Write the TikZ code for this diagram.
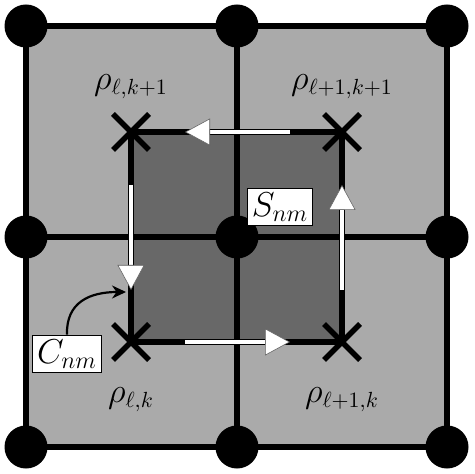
\documentclass[tikz,border=0pt]{standalone}
\usetikzlibrary{arrows.meta,calc}
\definecolor{lightg}{RGB}{170,170,170}
\definecolor{darkg}{RGB}{104,104,104}
\begin{document}
\begin{tikzpicture}[x=0.5pt,y=-0.5pt,
  gridline/.style={line width=2.6pt,black},
  crossline/.style={line width=2.8pt,black},
  dot/.style={circle,fill=black,minimum size=21.5pt,inner sep=0pt},
  flowarrow/.style={line width=2.2pt,white,-{Triangle[length=12.5pt,width=13.5pt,color=black!60,fill=white,line width=0.3pt]}},
  rholabel/.style={font=\fontsize{16}{18}\selectfont},
  labbox/.style={draw=black,line width=0.5pt,fill=white,inner sep=2.2pt,font=\fontsize{18}{20}\selectfont}]
\useasboundingbox (0,0) rectangle (474,474);
% fills
\fill[lightg] (26,26) rectangle (447,447);
\fill[darkg] (131,132) rectangle (342,342);
% grid
\draw[gridline,line width=3pt] (26,26) rectangle (447,447);
\draw[gridline] (237,26) -- (237,447);
\draw[gridline] (26,237) -- (447,237);
% dark square border
\coordinate (c1) at (131,132);
\coordinate (c2) at (342,132);
\coordinate (c3) at (342,342);
\coordinate (c4) at (131,342);
\draw[gridline] (c1) -- (c2) -- (c3) -- (c4) -- cycle;
% crosses
\foreach \c in {c1,c2,c3,c4}{
  \draw[crossline] ($(\c)+(-18,-18)$) -- ($(\c)+(18,18)$);
  \draw[crossline] ($(\c)+(-18,18)$) -- ($(\c)+(18,-18)$);
}
% dots
\foreach \x/\y [count=\i] in {26/26,237/26,447/26,26/237,237/237,447/237,26/447,237/447,447/447}
  \node[dot] (d\i) at (\x,\y) {};
% arrows
\coordinate (a1s) at (290,132); \coordinate (a1e) at (185,132);
\coordinate (a2s) at (131,185); \coordinate (a2e) at (131,290);
\coordinate (a3s) at (185,342); \coordinate (a3e) at (290,342);
\coordinate (a4s) at (342,290); \coordinate (a4e) at (342,185);
\draw[flowarrow] (a1s) -- (a1e);
\draw[flowarrow] (a2s) -- (a2e);
\draw[flowarrow] (a3s) -- (a3e);
\draw[flowarrow] (a4s) -- (a4e);
% labels
\node[rholabel] (r1) at (131,87) {$\rho_{\ell,k+1}$};
\node[rholabel] (r2) at (342,87) {$\rho_{\ell+1,k+1}$};
\node[rholabel] (r3) at (131,400) {$\rho_{\ell,k}$};
\node[rholabel] (r4) at (342,400) {$\rho_{\ell+1,k}$};
\node[labbox] (S) at (280,207) {$S_{nm}$};
\node[labbox] (C) at (67,354) {$C_{nm}$};
\coordinate (ct) at (126,292);
\draw[line width=1.1pt,-{Stealth[length=7pt,width=6.5pt]}] (C.north) .. controls (66,302) and (90,292) .. (ct);
\end{tikzpicture}
\end{document}
